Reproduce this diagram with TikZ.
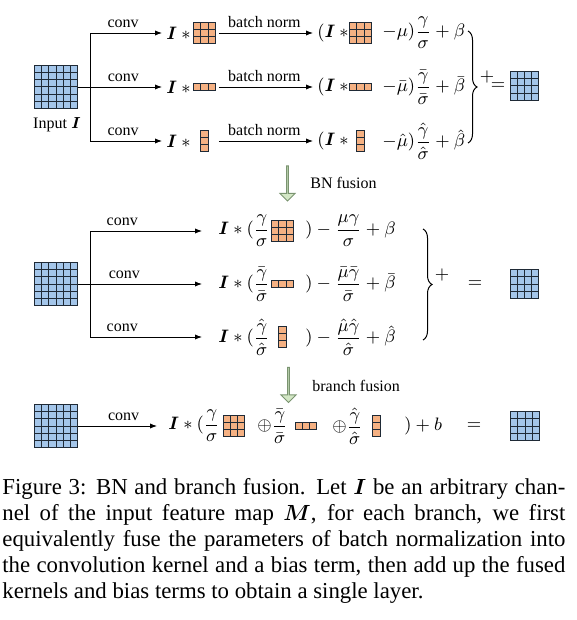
\documentclass[tikz,border=0pt]{standalone}
\usepackage{amsmath}
\usepackage{amssymb}
\usepackage[no-math]{fontspec}
\setmainfont{Liberation Serif}
\usepackage{tikz}
\usetikzlibrary{arrows.meta,shapes.arrows,decorations.pathreplacing}

\definecolor{fmapblue}{HTML}{A4C6EA}
\definecolor{kernorange}{HTML}{F5B183}
\definecolor{gridline}{HTML}{1F2A36}
\definecolor{fusiongreen}{HTML}{D3E7C5}
\definecolor{fusionedge}{HTML}{7A9470}

\newcommand{\bI}{\boldsymbol{I}}

\tikzset{%
    cell/.store in=\cellsz, cell=3.6pt,
    grid_box/.style 2 args={%
        draw=gridline, line width=0.5pt, inner sep=0pt,
        minimum width=#1*\cellsz, minimum height=#2*\cellsz,
        path picture={%
            \foreach \gx in {1,...,#1}
                \draw[gridline, line width=0.5pt]
                    ([xshift=\gx*\cellsz]path picture bounding box.south west) --
                    ([xshift=\gx*\cellsz]path picture bounding box.north west);
            \foreach \gy in {1,...,#2}
                \draw[gridline, line width=0.5pt]
                    ([yshift=\gy*\cellsz]path picture bounding box.south west) --
                    ([yshift=\gy*\cellsz]path picture bounding box.south east);
        }
    },
    fmap/.style={%
        grid_box={#1}{#1}, fill=fmapblue
    },
    kern_box/.style 2 args={%
        grid_box={#1}{#2}, fill=kernorange
    },
    expr/.style={%
        inner xsep=2pt, inner ysep=1pt, anchor=west
    },
    lbl/.style={%
        inner sep=2.5pt, font=\fontsize{8}{10}\selectfont
    },
    conv_arrow/.style={%
        -{Latex[length=3.5pt,width=2.6pt]}, line width=0.45pt
    },
    bn_arrow/.style={%
        conv_arrow, shorten <=1.5pt
    },
    fusion_arrow/.style={%
        single arrow, draw=fusionedge, fill=fusiongreen, line width=0.5pt,
        shape border rotate=270, minimum height=17.5pt, minimum width=7.5pt,
        single arrow head extend=1.75pt, single arrow head indent=0pt, inner sep=0pt
    },
    sum_brace/.style={%
        decorate, decoration={brace, amplitude=4.5pt}, line width=0.5pt
    },
}

\begin{document}
\begin{tikzpicture}[x=0.5pt, y=-0.5pt, font=\fontsize{9}{11}\selectfont]
      \useasboundingbox (0,0) rectangle (577,620);

      \node[fmap=6] (in1) at (56,87) {};
      \node[lbl] (in1_lbl) at (57,125) {Input $\bI$};
      \coordinate (br1) at (90,87);
      \node[expr] (t1) at (162,33) {$\bI*{}$};
      \node[expr] (t2) at (162,87) {$\bI*{}$};
      \node[expr] (t3) at (162,141) {$\bI*{}$};
      \node[kern_box={3}{3}] (k1) at (204.5,33) {};
      \node[kern_box={3}{1}] (k2) at (204.5,87) {};
      \node[kern_box={1}{3}] (k3) at (204.5,141) {};
      \draw[conv_arrow] (br1) |- node[lbl, above, pos=0.73]{conv} (t1.west);
      \draw[conv_arrow] (in1.east) -- node[lbl, above, pos=0.54]{conv} (t2.west);
      \draw[conv_arrow] (br1) |- node[lbl, above, pos=0.73]{conv} (t3.west);

      \node[expr] (u1) at (313,33) {$(\bI*{}$};
      \node[expr] (u2) at (313,87) {$(\bI*{}$};
      \node[expr] (u3) at (313,141) {$(\bI*{}$};
      \node[kern_box={3}{3}] (uk1) at (360.5,33) {};
      \node[kern_box={3}{1}] (uk2) at (360.5,87) {};
      \node[kern_box={1}{3}] (uk3) at (360.5,141) {};
      \node[expr] (v1) at (378,33) {$-\mu)\dfrac{\gamma}{\sigma}+\beta$};
      \node[expr] (v2) at (378,87) {$-\bar\mu)\dfrac{\bar\gamma}{\bar\sigma}+\bar\beta$};
      \node[expr] (v3) at (378,141) {$-\hat\mu)\dfrac{\hat\gamma}{\hat\sigma}+\hat\beta$};
      \draw[bn_arrow] (k1.east) -- node[lbl, above]{batch norm} (u1.west);
      \draw[bn_arrow] (k2.east) -- node[lbl, above]{batch norm} (u2.west);
      \draw[bn_arrow] (k1.east |- k3) -- node[lbl, above]{batch norm} (u3.west);

      \draw[sum_brace] (468,31) -- (468,143);
      \node (plus1) at (487,77) {$+$};
      \node (eq1) at (498,86) {$=$};
      \node[fmap=4] (out1) at (524.5,86) {};

      \node[fusion_arrow] (bn_fuse) at (287.5,183) {};
      \node[lbl, anchor=west] (bn_fuse_lbl) at (305,183) {BN fusion};

      \node[fmap=6] (in2) at (56,284) {};
      \coordinate (br2) at (90,284);
      \node[expr] (m1) at (214,231) {$\bI*(\dfrac{\gamma}{\sigma}$};
      \node[expr] (m2) at (214,284) {$\bI*(\dfrac{\bar\gamma}{\bar\sigma}$};
      \node[expr] (m3) at (214,337) {$\bI*(\dfrac{\hat\gamma}{\hat\sigma}$};
      \node[kern_box={3}{3}] (mk1) at (282.5,231) {};
      \node[kern_box={3}{1}] (mk2) at (282.5,284) {};
      \node[kern_box={1}{3}] (mk3) at (282.5,337) {};
      \node[expr] (n1) at (301,231) {$)-\dfrac{\mu\gamma}{\sigma}+\beta$};
      \node[expr] (n2) at (301,284) {$)-\dfrac{\bar\mu\bar\gamma}{\bar\sigma}+\bar\beta$};
      \node[expr] (n3) at (301,337) {$)-\dfrac{\hat\mu\hat\gamma}{\hat\sigma}+\hat\beta$};
      \draw[conv_arrow, shorten >=6pt] (br2) |- node[lbl, above, pos=0.63]{conv} (m1.west);
      \draw[conv_arrow, shorten >=6pt] (in2.east) -- node[lbl, above, pos=0.34]{conv} (m2.west);
      \draw[conv_arrow, shorten >=6pt] (br2) |- node[lbl, above, pos=0.63]{conv} (m3.west);

      \draw[sum_brace] (423,229) -- (423,340);
      \node (plus2) at (442,275) {$+$};
      \node (eq2) at (475,284) {$=$};
      \node[fmap=4] (out2) at (524.5,284) {};

      \node[fusion_arrow] (br_fuse) at (288.5,384.5) {};
      \node[lbl, anchor=west] (br_fuse_lbl) at (307,386) {branch fusion};

      \node[fmap=6] (in3) at (56,426) {};
      \node[expr] (b1) at (164,426) {$\bI*(\dfrac{\gamma}{\sigma}$};
      \node[kern_box={3}{3}] (bk1) at (234,426) {};
      \node[expr] (b2) at (253,426) {$\oplus\dfrac{\bar\gamma}{\bar\sigma}$};
      \node[kern_box={3}{1}] (bk2) at (306,426) {};
      \node[expr] (b3) at (328,426) {$\oplus\dfrac{\hat\gamma}{\hat\sigma}$};
      \node[kern_box={1}{3}] (bk3) at (376.5,426) {};
      \node[expr] (b4) at (400,426) {$)+b$};
      \node (eq3) at (474,426) {$=$};
      \node[fmap=4] (out3) at (525,426) {};
      \draw[conv_arrow, shorten >=3.5pt] (in3.east) -- node[lbl, above, pos=0.53]{conv} (b1.west);

      \node[anchor=north west, text width=281.5pt, align=justify, inner sep=0pt,
            font=\fontsize{11.4}{13}\selectfont] (caption) at (2,478)
            {Figure 3: BN and branch fusion. Let $\bI$ be an arbitrary chan-\linebreak
             nel of the input feature map $\boldsymbol{M}$, for each branch, we first\linebreak
             equivalently fuse the parameters of batch normalization into\linebreak
             the convolution kernel and a bias term, then add up the fused\linebreak
             kernels and bias terms to obtain a single layer.};
\end{tikzpicture}
\end{document}
